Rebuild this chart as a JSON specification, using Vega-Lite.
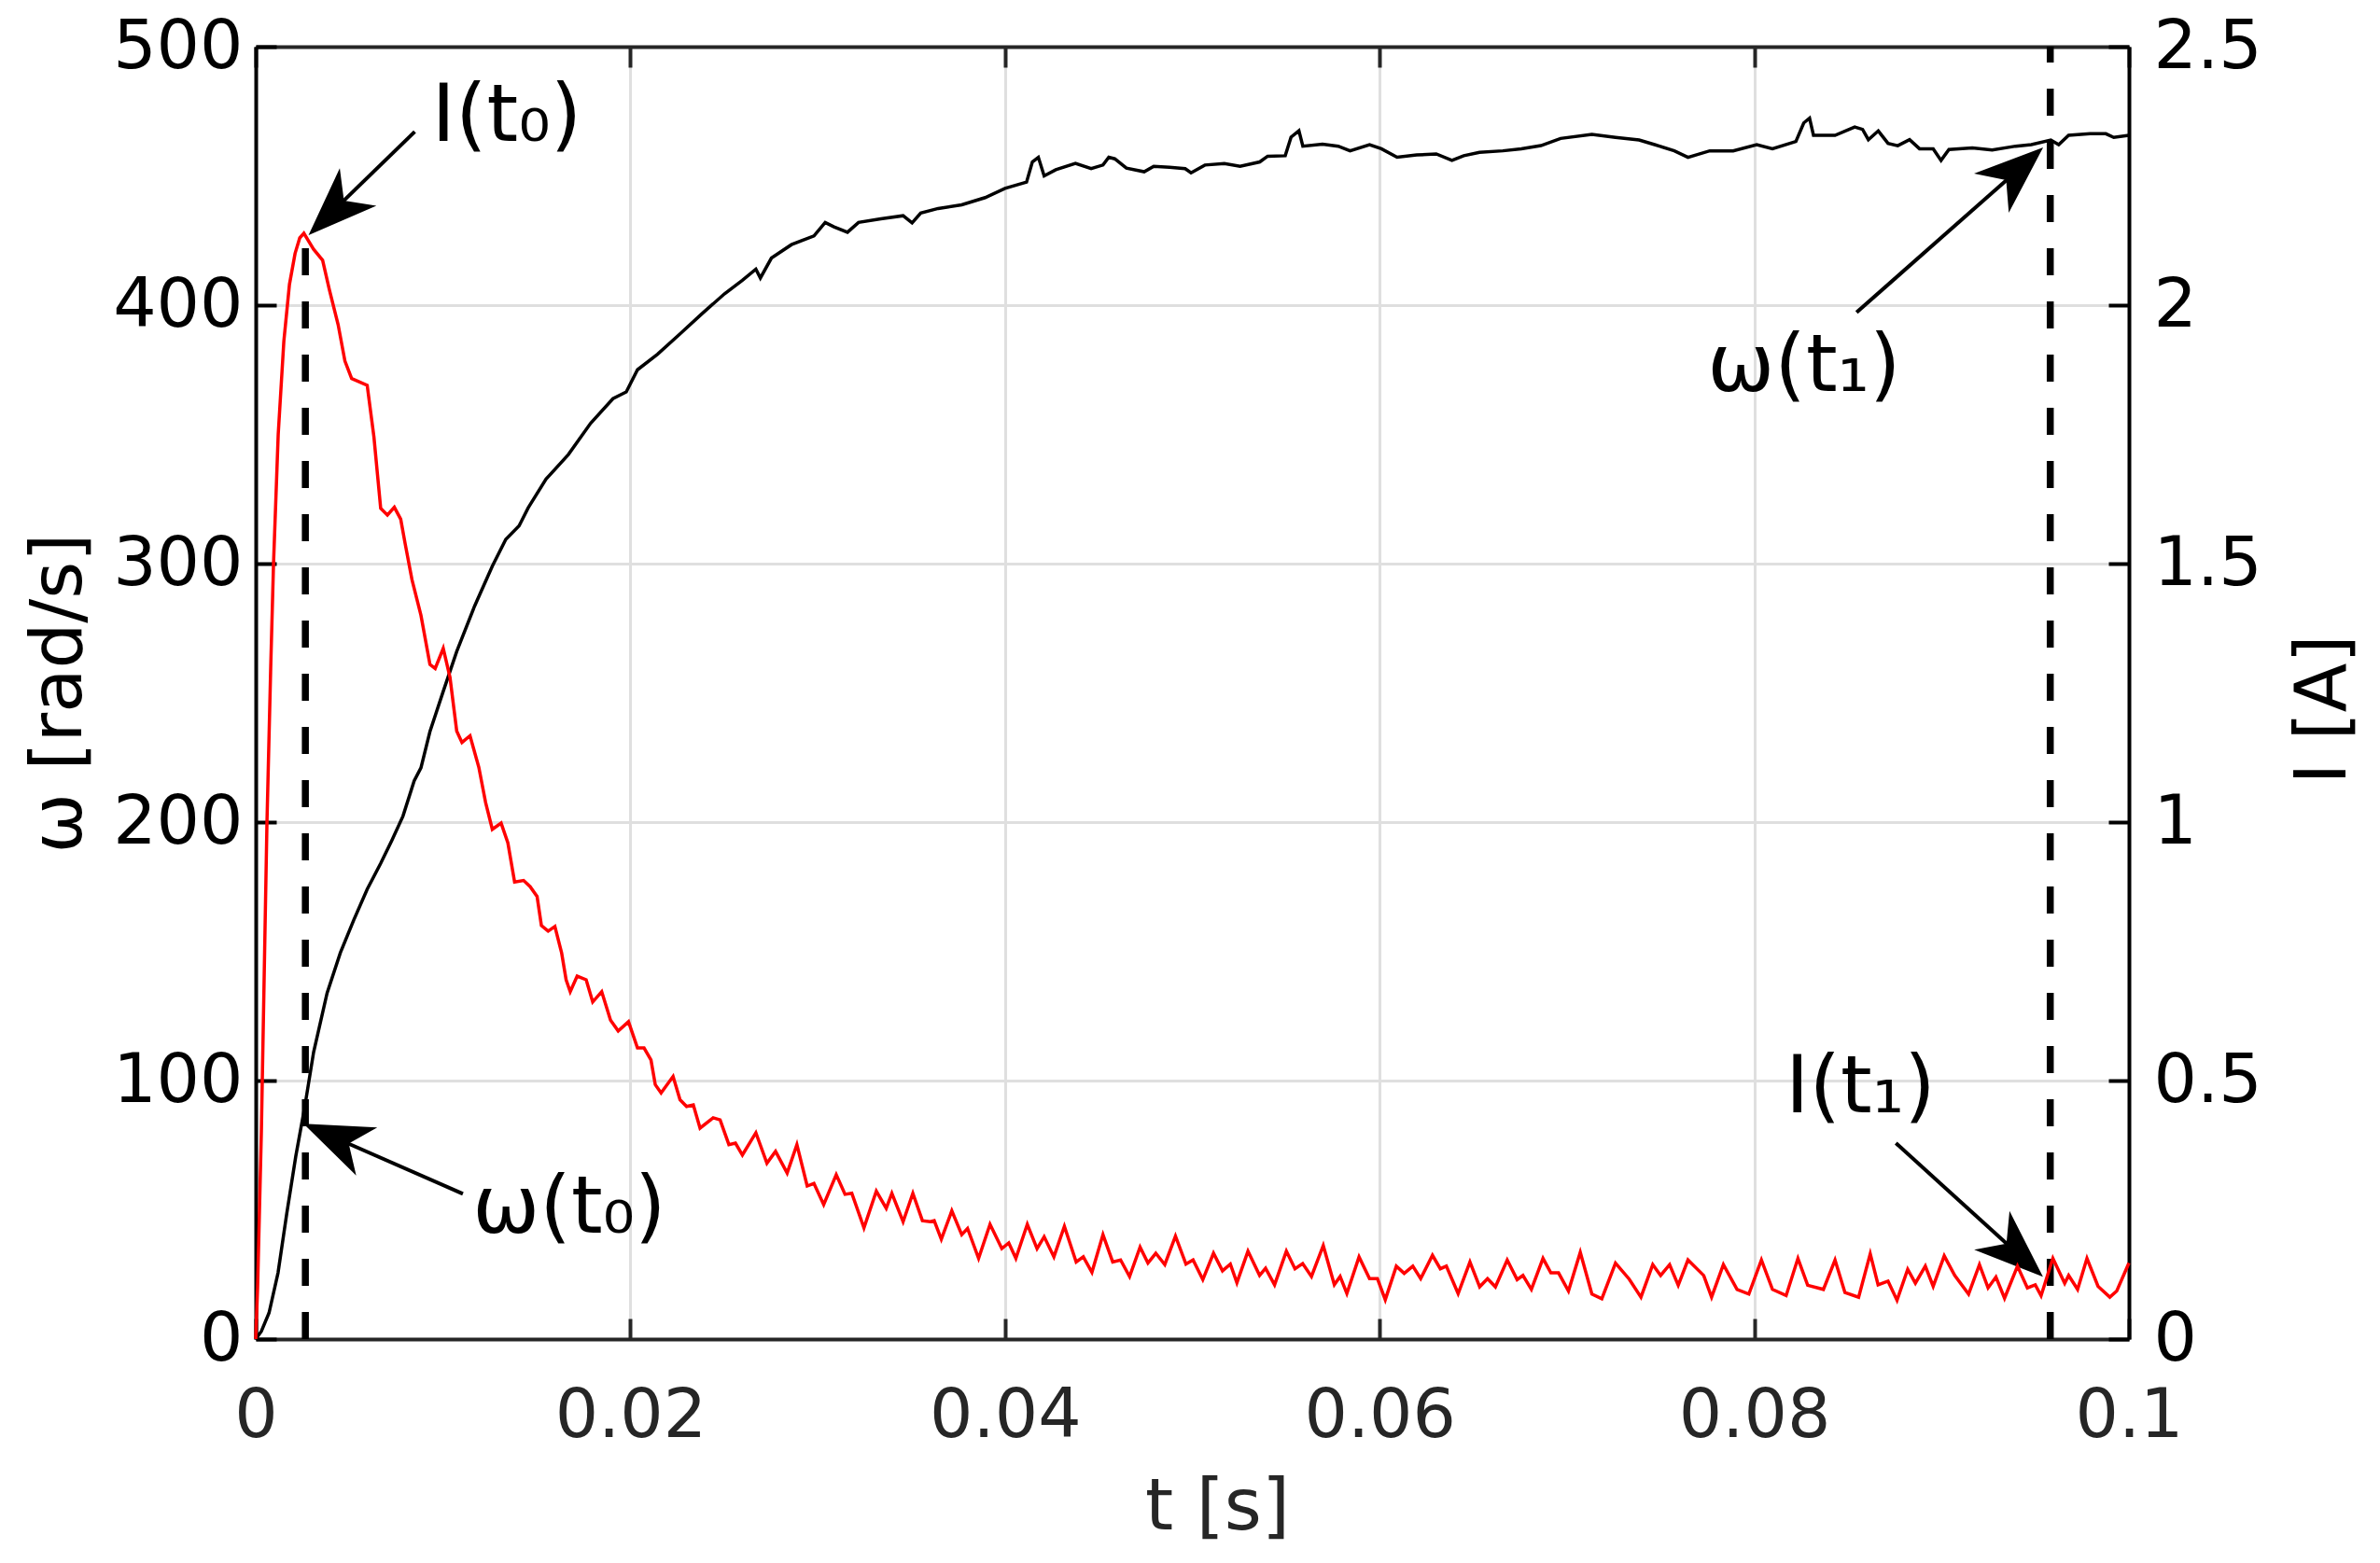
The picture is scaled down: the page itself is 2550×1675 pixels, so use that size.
{
  "$schema": "https://vega.github.io/schema/vega-lite/v6.json",
  "width": 2007,
  "height": 1385,
  "autosize": {"type": "none"},
  "padding": {"left": 274, "top": 50, "right": 269, "bottom": 240},
  "background": "white",
  "datasets": {
    "omega": [
      {"t": 0, "w": 0}, {"t": 0.0003, "w": 3}, {"t": 0.00071, "w": 10.1}, {"t": 0.00119, "w": 25.6},
      {"t": 0.00166, "w": 48.7}, {"t": 0.00214, "w": 70.8}, {"t": 0.00262, "w": 90}, {"t": 0.00309, "w": 111},
      {"t": 0.00381, "w": 133.9}, {"t": 0.00452, "w": 149.5}, {"t": 0.00524, "w": 162.2}, {"t": 0.00595, "w": 174},
      {"t": 0.00667, "w": 184}, {"t": 0.00727, "w": 193}, {"t": 0.00786, "w": 202.3}, {"t": 0.00846, "w": 216},
      {"t": 0.00882, "w": 221}, {"t": 0.0093, "w": 235}, {"t": 0.01001, "w": 250.6}, {"t": 0.01073, "w": 266},
      {"t": 0.01168, "w": 283.5}, {"t": 0.01263, "w": 299}, {"t": 0.01335, "w": 309.4}, {"t": 0.01406, "w": 314.6},
      {"t": 0.01454, "w": 321.5}, {"t": 0.0155, "w": 332.7}, {"t": 0.01669, "w": 342.2}, {"t": 0.01788, "w": 354.3},
      {"t": 0.01907, "w": 363.8}, {"t": 0.01978, "w": 366.4}, {"t": 0.02038, "w": 375}, {"t": 0.02145, "w": 381},
      {"t": 0.02264, "w": 388.8}, {"t": 0.02384, "w": 396.8}, {"t": 0.02503, "w": 404.4}, {"t": 0.02598, "w": 409.6},
      {"t": 0.0267, "w": 413.9}, {"t": 0.02694, "w": 410.5}, {"t": 0.02753, "w": 418.2}, {"t": 0.0286, "w": 423.4},
      {"t": 0.0298, "w": 426.8}, {"t": 0.0304, "w": 432}, {"t": 0.03087, "w": 430.3}, {"t": 0.03159, "w": 428.2},
      {"t": 0.03218, "w": 432}, {"t": 0.03337, "w": 433.4}, {"t": 0.03456, "w": 434.6}, {"t": 0.03504, "w": 431.8},
      {"t": 0.0355, "w": 435.6}, {"t": 0.03643, "w": 437.4}, {"t": 0.03769, "w": 438.8}, {"t": 0.03894, "w": 441.6},
      {"t": 0.04, "w": 445.2}, {"t": 0.04115, "w": 447.6}, {"t": 0.04146, "w": 455.4}, {"t": 0.04178, "w": 457.2},
      {"t": 0.04209, "w": 450}, {"t": 0.04271, "w": 452.4}, {"t": 0.04376, "w": 454.8}, {"t": 0.0446, "w": 452.8},
      {"t": 0.04523, "w": 454.2}, {"t": 0.04554, "w": 457.2}, {"t": 0.04586, "w": 456.6}, {"t": 0.04648, "w": 453},
      {"t": 0.04743, "w": 451.6}, {"t": 0.04794, "w": 453.7}, {"t": 0.04878, "w": 453.3}, {"t": 0.04962, "w": 452.8},
      {"t": 0.04993, "w": 451.2}, {"t": 0.05067, "w": 454.2}, {"t": 0.05171, "w": 454.8}, {"t": 0.05255, "w": 453.7},
      {"t": 0.0536, "w": 455.4}, {"t": 0.05402, "w": 457.6}, {"t": 0.05496, "w": 457.8}, {"t": 0.05527, "w": 465},
      {"t": 0.05569, "w": 467.5}, {"t": 0.0559, "w": 461.5}, {"t": 0.05695, "w": 462.3}, {"t": 0.05779, "w": 461.5},
      {"t": 0.05842, "w": 459.7}, {"t": 0.05946, "w": 462.1}, {"t": 0.06009, "w": 460.5}, {"t": 0.06093, "w": 457.2},
      {"t": 0.06198, "w": 458.1}, {"t": 0.06302, "w": 458.5}, {"t": 0.06386, "w": 456}, {"t": 0.06449, "w": 457.8},
      {"t": 0.06533, "w": 459.1}, {"t": 0.06658, "w": 459.7}, {"t": 0.06756, "w": 460.5}, {"t": 0.06861, "w": 461.7},
      {"t": 0.06966, "w": 464.5}, {"t": 0.07133, "w": 466.1}, {"t": 0.07259, "w": 464.9}, {"t": 0.07385, "w": 463.9},
      {"t": 0.07468, "w": 462.1}, {"t": 0.07573, "w": 459.7}, {"t": 0.07646, "w": 457.2}, {"t": 0.07762, "w": 459.7},
      {"t": 0.07887, "w": 459.7}, {"t": 0.08013, "w": 462.1}, {"t": 0.08097, "w": 460.5}, {"t": 0.08222, "w": 463.3},
      {"t": 0.08264, "w": 470.5}, {"t": 0.08295, "w": 472.3}, {"t": 0.08316, "w": 465.7}, {"t": 0.08431, "w": 465.7},
      {"t": 0.08536, "w": 468.9}, {"t": 0.08578, "w": 468}, {"t": 0.08609, "w": 464}, {"t": 0.08662, "w": 467.4},
      {"t": 0.08714, "w": 462.6}, {"t": 0.08766, "w": 461.7}, {"t": 0.08829, "w": 464}, {"t": 0.08882, "w": 460.5},
      {"t": 0.08955, "w": 460.5}, {"t": 0.08997, "w": 456}, {"t": 0.09039, "w": 460.2}, {"t": 0.09164, "w": 460.8},
      {"t": 0.0927, "w": 460}, {"t": 0.09395, "w": 461.5}, {"t": 0.09479, "w": 462.1}, {"t": 0.09583, "w": 463.9},
      {"t": 0.09625, "w": 462.1}, {"t": 0.09678, "w": 465.7}, {"t": 0.09793, "w": 466.3}, {"t": 0.09877, "w": 466.3},
      {"t": 0.09919, "w": 464.9}, {"t": 0.1, "w": 465.7}
    ],
    "current": [
      {"t": 0, "i": 0}, {"t": 0.0001, "i": 0.1}, {"t": 0.0003, "i": 0.4}, {"t": 0.00045, "i": 0.7},
      {"t": 0.0006, "i": 1.0}, {"t": 0.0008, "i": 1.3}, {"t": 0.00095, "i": 1.5}, {"t": 0.0012, "i": 1.75},
      {"t": 0.0015, "i": 1.93}, {"t": 0.0018, "i": 2.04}, {"t": 0.0021, "i": 2.1}, {"t": 0.00235, "i": 2.13},
      {"t": 0.00257, "i": 2.139}, {"t": 0.00309, "i": 2.108}, {"t": 0.00357, "i": 2.087}, {"t": 0.00393, "i": 2.03},
      {"t": 0.0044, "i": 1.962}, {"t": 0.00476, "i": 1.892}, {"t": 0.00512, "i": 1.858}, {"t": 0.00595, "i": 1.845},
      {"t": 0.00631, "i": 1.745}, {"t": 0.00667, "i": 1.607}, {"t": 0.00703, "i": 1.594}, {"t": 0.0074, "i": 1.609},
      {"t": 0.00774, "i": 1.586}, {"t": 0.00798, "i": 1.538}, {"t": 0.00834, "i": 1.469}, {"t": 0.00882, "i": 1.4},
      {"t": 0.0093, "i": 1.305}, {"t": 0.00958, "i": 1.297}, {"t": 0.01001, "i": 1.336}, {"t": 0.01037, "i": 1.28},
      {"t": 0.01073, "i": 1.176}, {"t": 0.01101, "i": 1.154}, {"t": 0.01144, "i": 1.167}, {"t": 0.01191, "i": 1.106},
      {"t": 0.01227, "i": 1.038}, {"t": 0.01263, "i": 0.986}, {"t": 0.0131, "i": 0.998}, {"t": 0.01346, "i": 0.96},
      {"t": 0.01382, "i": 0.884}, {"t": 0.0143, "i": 0.887}, {"t": 0.01465, "i": 0.875}, {"t": 0.01502, "i": 0.856},
      {"t": 0.01525, "i": 0.8}, {"t": 0.01561, "i": 0.789}, {"t": 0.01597, "i": 0.798}, {"t": 0.01633, "i": 0.747},
      {"t": 0.01657, "i": 0.695}, {"t": 0.01679, "i": 0.672}, {"t": 0.01716, "i": 0.702}, {"t": 0.01764, "i": 0.695},
      {"t": 0.01799, "i": 0.652}, {"t": 0.01847, "i": 0.672}, {"t": 0.01894, "i": 0.617}, {"t": 0.01935, "i": 0.596},
      {"t": 0.0199, "i": 0.614}, {"t": 0.02038, "i": 0.563}, {"t": 0.02073, "i": 0.563}, {"t": 0.0211, "i": 0.54},
      {"t": 0.02133, "i": 0.492}, {"t": 0.02164, "i": 0.476}, {"t": 0.02228, "i": 0.508}, {"t": 0.02265, "i": 0.463},
      {"t": 0.023, "i": 0.45}, {"t": 0.02336, "i": 0.453}, {"t": 0.02372, "i": 0.408}, {"t": 0.02442, "i": 0.428},
      {"t": 0.02479, "i": 0.424}, {"t": 0.02526, "i": 0.376}, {"t": 0.02561, "i": 0.379}, {"t": 0.02598, "i": 0.356},
      {"t": 0.0267, "i": 0.399}, {"t": 0.02729, "i": 0.34}, {"t": 0.02775, "i": 0.363}, {"t": 0.02837, "i": 0.321},
      {"t": 0.02889, "i": 0.376}, {"t": 0.02944, "i": 0.296}, {"t": 0.0298, "i": 0.301}, {"t": 0.03032, "i": 0.26},
      {"t": 0.03099, "i": 0.318}, {"t": 0.03146, "i": 0.28}, {"t": 0.03182, "i": 0.282}, {"t": 0.03247, "i": 0.215},
      {"t": 0.03313, "i": 0.286}, {"t": 0.03366, "i": 0.253}, {"t": 0.03396, "i": 0.282}, {"t": 0.03456, "i": 0.227},
      {"t": 0.03508, "i": 0.282}, {"t": 0.03559, "i": 0.229}, {"t": 0.03601, "i": 0.227}, {"t": 0.03622, "i": 0.229},
      {"t": 0.0366, "i": 0.193}, {"t": 0.03716, "i": 0.248}, {"t": 0.03769, "i": 0.202}, {"t": 0.038, "i": 0.214},
      {"t": 0.03859, "i": 0.156}, {"t": 0.0392, "i": 0.222}, {"t": 0.03983, "i": 0.175}, {"t": 0.0402, "i": 0.186},
      {"t": 0.04058, "i": 0.156}, {"t": 0.04119, "i": 0.222}, {"t": 0.04171, "i": 0.175}, {"t": 0.04209, "i": 0.198},
      {"t": 0.04261, "i": 0.159}, {"t": 0.04317, "i": 0.218}, {"t": 0.0438, "i": 0.149}, {"t": 0.04418, "i": 0.159},
      {"t": 0.04464, "i": 0.129}, {"t": 0.04523, "i": 0.202}, {"t": 0.04575, "i": 0.149}, {"t": 0.04617, "i": 0.153},
      {"t": 0.04665, "i": 0.121}, {"t": 0.04721, "i": 0.178}, {"t": 0.04763, "i": 0.147}, {"t": 0.04805, "i": 0.166},
      {"t": 0.04853, "i": 0.144}, {"t": 0.0491, "i": 0.199}, {"t": 0.04966, "i": 0.145}, {"t": 0.05004, "i": 0.153},
      {"t": 0.05056, "i": 0.115}, {"t": 0.05113, "i": 0.166}, {"t": 0.05161, "i": 0.132}, {"t": 0.05203, "i": 0.145},
      {"t": 0.05238, "i": 0.109}, {"t": 0.05297, "i": 0.17}, {"t": 0.05359, "i": 0.123}, {"t": 0.05391, "i": 0.137},
      {"t": 0.05439, "i": 0.105}, {"t": 0.05502, "i": 0.17}, {"t": 0.05548, "i": 0.136}, {"t": 0.05589, "i": 0.146},
      {"t": 0.05636, "i": 0.121}, {"t": 0.05699, "i": 0.181}, {"t": 0.05758, "i": 0.105}, {"t": 0.05789, "i": 0.121},
      {"t": 0.05825, "i": 0.088}, {"t": 0.0589, "i": 0.159}, {"t": 0.05946, "i": 0.117}, {"t": 0.05988, "i": 0.117},
      {"t": 0.0603, "i": 0.076}, {"t": 0.06089, "i": 0.141}, {"t": 0.06131, "i": 0.127}, {"t": 0.06177, "i": 0.141},
      {"t": 0.06219, "i": 0.117}, {"t": 0.06282, "i": 0.162}, {"t": 0.06324, "i": 0.136}, {"t": 0.06356, "i": 0.141},
      {"t": 0.06419, "i": 0.088}, {"t": 0.06482, "i": 0.149}, {"t": 0.06534, "i": 0.101}, {"t": 0.06576, "i": 0.117},
      {"t": 0.06618, "i": 0.101}, {"t": 0.06681, "i": 0.153}, {"t": 0.06734, "i": 0.115}, {"t": 0.06765, "i": 0.123},
      {"t": 0.0681, "i": 0.096}, {"t": 0.06872, "i": 0.156}, {"t": 0.06914, "i": 0.128}, {"t": 0.06955, "i": 0.128},
      {"t": 0.07008, "i": 0.093}, {"t": 0.07071, "i": 0.168}, {"t": 0.07133, "i": 0.087}, {"t": 0.07186, "i": 0.078},
      {"t": 0.07259, "i": 0.147}, {"t": 0.07332, "i": 0.116}, {"t": 0.07395, "i": 0.081}, {"t": 0.07458, "i": 0.144},
      {"t": 0.075, "i": 0.123}, {"t": 0.07548, "i": 0.144}, {"t": 0.07594, "i": 0.104}, {"t": 0.07646, "i": 0.153},
      {"t": 0.0773, "i": 0.123}, {"t": 0.07772, "i": 0.081}, {"t": 0.07835, "i": 0.144}, {"t": 0.07908, "i": 0.096},
      {"t": 0.07971, "i": 0.087}, {"t": 0.08038, "i": 0.153}, {"t": 0.08097, "i": 0.096}, {"t": 0.0817, "i": 0.084},
      {"t": 0.08233, "i": 0.156}, {"t": 0.08285, "i": 0.104}, {"t": 0.08369, "i": 0.096}, {"t": 0.08431, "i": 0.153},
      {"t": 0.08484, "i": 0.09}, {"t": 0.08557, "i": 0.081}, {"t": 0.08619, "i": 0.165}, {"t": 0.08661, "i": 0.105},
      {"t": 0.08714, "i": 0.112}, {"t": 0.08762, "i": 0.075}, {"t": 0.08819, "i": 0.135}, {"t": 0.0886, "i": 0.108},
      {"t": 0.08913, "i": 0.141}, {"t": 0.08955, "i": 0.102}, {"t": 0.09014, "i": 0.161}, {"t": 0.0907, "i": 0.123},
      {"t": 0.09144, "i": 0.087}, {"t": 0.09202, "i": 0.144}, {"t": 0.09248, "i": 0.099}, {"t": 0.0929, "i": 0.12},
      {"t": 0.09336, "i": 0.079}, {"t": 0.09405, "i": 0.141}, {"t": 0.09458, "i": 0.099}, {"t": 0.095, "i": 0.105},
      {"t": 0.09531, "i": 0.084}, {"t": 0.09594, "i": 0.156}, {"t": 0.09657, "i": 0.108}, {"t": 0.09678, "i": 0.123},
      {"t": 0.09726, "i": 0.096}, {"t": 0.09776, "i": 0.156}, {"t": 0.09835, "i": 0.102}, {"t": 0.09898, "i": 0.081},
      {"t": 0.09935, "i": 0.093}, {"t": 0.1, "i": 0.147}
    ],
    "markers": [
      {"t": 0.00265, "w": 0, "w2": 427},
      {"t": 0.0958, "w": 0, "w2": 500}
    ],
    "arrows": [
      {"arrow": "It0", "t0": 0.00849, "w0": 467.1, "t1": 0.004425, "w1": 438.5, "tt": 0.00282, "wt": 427.1},
      {"arrow": "wt1", "t0": 0.08546, "w0": 397.2, "t1": 0.09375, "w1": 450.2, "tt": 0.09542, "wt": 461},
      {"arrow": "wt0", "t0": 0.01106, "w0": 56.2, "t1": 0.0046, "w1": 76.7, "tt": 0.00255, "wt": 83.3},
      {"arrow": "It1", "t0": 0.08756, "w0": 75.8, "t1": 0.09376, "w1": 35.0, "tt": 0.09541, "wt": 24.1}
    ],
    "notes": [
      {"text": "I(t₀)", "t": 0.0134, "w": 472.9},
      {"text": "ω(t₁)", "t": 0.08266, "w": 376.2},
      {"text": "ω(t₀)", "t": 0.01674, "w": 50.5},
      {"text": "I(t₁)", "t": 0.08567, "w": 97.1}
    ]
  },
  "layer": [
    {
      "layer": [
        {
          "data": {"name": "omega"},
          "mark": {"type": "line", "color": "black", "strokeWidth": 3.5},
          "encoding": {
            "x": {
              "field": "t", "type": "quantitative",
              "scale": {"domain": [0, 0.1], "nice": false, "zero": false},
              "axis": {
                "orient": "bottom", "values": [0, 0.02, 0.04, 0.06, 0.08, 0.1], "format": "~f",
                "title": "t [s]", "grid": true, "gridColor": "#dfdfdf", "gridWidth": 3,
                "domainColor": "#262626", "domainWidth": 4, "tickColor": "#262626", "tickWidth": 4, "tickSize": -22,
                "labelPadding": 68, "labelFontSize": 73, "labelColor": "#262626", "labelFlush": false,
                "titleFontSize": 77, "titleColor": "#262626", "titlePadding": 23, "titleX": 1030
              }
            },
            "y": {
              "field": "w", "type": "quantitative",
              "scale": {"domain": [0, 500], "nice": false},
              "axis": {
                "orient": "left", "values": [0, 100, 200, 300, 400, 500],
                "title": "ω [rad/s]", "grid": true, "gridColor": "#dfdfdf", "gridWidth": 3,
                "domainColor": "black", "domainWidth": 4, "tickColor": "black", "tickWidth": 4, "tickSize": -22,
                "labelPadding": 36, "labelFontSize": 73, "labelColor": "black", "labelFlush": false,
                "titleFontSize": 77, "titleColor": "black", "titlePadding": 18
              }
            }
          }
        },
        {
          "data": {"name": "markers"},
          "mark": {"type": "rule", "color": "black", "strokeWidth": 7.5, "strokeDash": [29, 28]},
          "encoding": {
            "x": {"field": "t", "type": "quantitative", "scale": {"domain": [0, 0.1], "nice": false, "zero": false}},
            "y": {"field": "w", "type": "quantitative", "scale": {"domain": [0, 500], "nice": false}},
            "y2": {"field": "w2"}
          }
        },
        {
          "data": {"name": "arrows"},
          "mark": {"type": "rule", "color": "black", "strokeWidth": 4},
          "encoding": {
            "x": {"field": "t0", "type": "quantitative", "scale": {"domain": [0, 0.1], "nice": false, "zero": false}},
            "y": {"field": "w0", "type": "quantitative", "scale": {"domain": [0, 500], "nice": false}},
            "x2": {"field": "t1"},
            "y2": {"field": "w1"}
          }
        },
        {
          "data": {"name": "arrows"},
          "transform": [{"filter": "datum.arrow === 'It0'"}],
          "mark": {"type": "point", "shape": "M0,0L-2,-0.76L-1.43,0L-2,0.76Z", "size": 5476, "filled": true, "color": "black", "opacity": 1, "angle": 135.8},
          "encoding": {
            "x": {"field": "tt", "type": "quantitative", "scale": {"domain": [0, 0.1], "nice": false, "zero": false}},
            "y": {"field": "wt", "type": "quantitative", "scale": {"domain": [0, 500], "nice": false}}
          }
        },
        {
          "data": {"name": "arrows"},
          "transform": [{"filter": "datum.arrow === 'wt1'"}],
          "mark": {"type": "point", "shape": "M0,0L-2,-0.76L-1.43,0L-2,0.76Z", "size": 5476, "filled": true, "color": "black", "opacity": 1, "angle": 318.5},
          "encoding": {
            "x": {"field": "tt", "type": "quantitative", "scale": {"domain": [0, 0.1], "nice": false, "zero": false}},
            "y": {"field": "wt", "type": "quantitative", "scale": {"domain": [0, 500], "nice": false}}
          }
        },
        {
          "data": {"name": "arrows"},
          "transform": [{"filter": "datum.arrow === 'wt0'"}],
          "mark": {"type": "point", "shape": "M0,0L-2,-0.76L-1.43,0L-2,0.76Z", "size": 5476, "filled": true, "color": "black", "opacity": 1, "angle": 203.7},
          "encoding": {
            "x": {"field": "tt", "type": "quantitative", "scale": {"domain": [0, 0.1], "nice": false, "zero": false}},
            "y": {"field": "wt", "type": "quantitative", "scale": {"domain": [0, 500], "nice": false}}
          }
        },
        {
          "data": {"name": "arrows"},
          "transform": [{"filter": "datum.arrow === 'It1'"}],
          "mark": {"type": "point", "shape": "M0,0L-2,-0.76L-1.43,0L-2,0.76Z", "size": 5476, "filled": true, "color": "black", "opacity": 1, "angle": 42.3},
          "encoding": {
            "x": {"field": "tt", "type": "quantitative", "scale": {"domain": [0, 0.1], "nice": false, "zero": false}},
            "y": {"field": "wt", "type": "quantitative", "scale": {"domain": [0, 500], "nice": false}}
          }
        },
        {
          "data": {"name": "notes"},
          "mark": {"type": "text", "font": "DejaVu Sans", "fontSize": 86, "color": "black", "align": "center", "baseline": "middle"},
          "encoding": {
            "x": {"field": "t", "type": "quantitative", "scale": {"domain": [0, 0.1], "nice": false, "zero": false}},
            "y": {"field": "w", "type": "quantitative", "scale": {"domain": [0, 500], "nice": false}},
            "text": {"field": "text"}
          }
        }
      ]
    },
    {
      "data": {"name": "current"},
      "mark": {"type": "line", "color": "#ff0000", "strokeWidth": 3.5},
      "encoding": {
        "x": {
          "field": "t", "type": "quantitative",
          "scale": {"domain": [0, 0.1], "nice": false, "zero": false},
          "axis": {
            "orient": "top", "values": [0, 0.02, 0.04, 0.06, 0.08, 0.1], "labels": false, "title": null, "grid": false,
            "domainColor": "#262626", "domainWidth": 4, "tickColor": "#262626", "tickWidth": 4, "tickSize": -22
          }
        },
        "y": {
          "field": "i", "type": "quantitative",
          "scale": {"domain": [0, 2.5], "nice": false},
          "axis": {
            "orient": "right", "values": [0, 0.5, 1, 1.5, 2, 2.5], "format": "~f",
            "title": "I [A]", "grid": false,
            "domainColor": "black", "domainWidth": 4, "tickColor": "black", "tickWidth": 4, "tickSize": -22,
            "labelPadding": 48, "labelFontSize": 73, "labelColor": "black", "labelFlush": false,
            "titleFontSize": 77, "titleColor": "black", "titlePadding": 28, "titleAngle": 270, "titleBaseline": "top",
            "titleY": 710
          }
        }
      }
    }
  ],
  "resolve": {"scale": {"y": "independent"}, "axis": {"x": "independent"}},
  "config": {
    "font": "DejaVu Sans",
    "view": {"stroke": null},
    "axis": {"labelFont": "DejaVu Sans", "titleFont": "DejaVu Sans", "titleFontWeight": "normal"}
  }
}
